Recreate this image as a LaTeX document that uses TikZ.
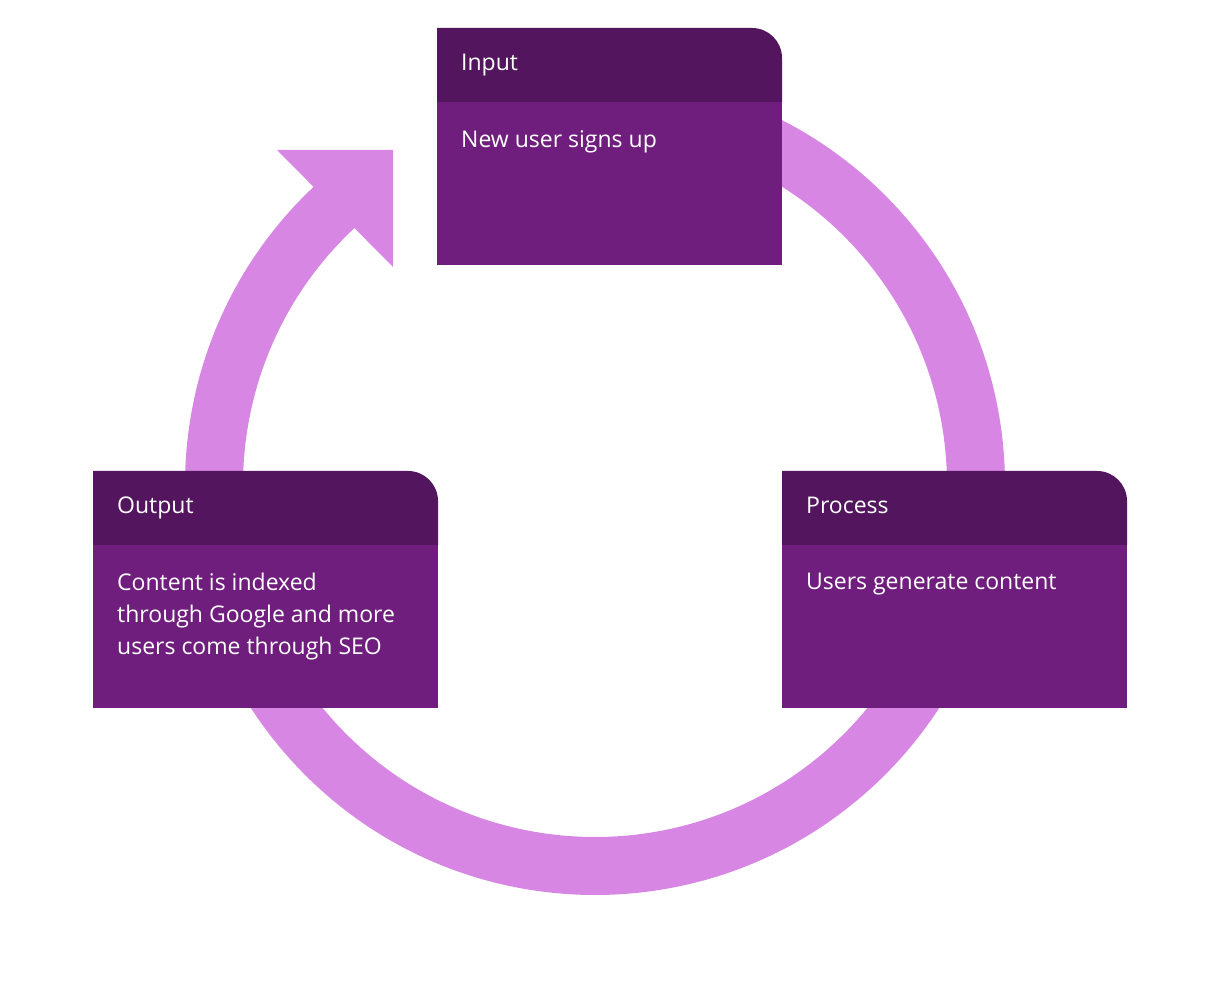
\documentclass[tikz,border=0pt]{standalone}
\usepackage{fontspec}
\setmainfont{Open Sans}
\definecolor{ring}{HTML}{D787E3}
\definecolor{hdr}{HTML}{53155E}
\definecolor{bdy}{HTML}{701E7D}
\tikzset{
 bodybox/.style={fill=bdy,minimum width=345pt,minimum height=163pt,inner sep=0,anchor=north west},
 txt/.style={text=white,font=\fontsize{23}{32}\selectfont,anchor=north west,inner sep=0,align=left},
}
\newcommand{\hdrbox}[3]{% x1, ytop (y-up), name
 \fill[hdr] (#1,#2-74) -- (#1,#2) -- (#1+315,#2) arc[start angle=90,end angle=0,radius=30] -- (#1+345,#2-74) -- cycle;
}
\begin{document}
\begin{tikzpicture}[x=1pt,y=1pt]
\useasboundingbox (0,0) rectangle (1212,1000);
% ring
\draw[ring,line width=58pt] (595,515) ++(133:381) arc[start angle=133,end angle=450,radius=381];
\fill[ring] (277,850) -- (393,850) -- (393,733) -- cycle;
% Input
\hdrbox{437}{972}{}
\node[bodybox] (inb) at (437,898) {};
\node[txt] (inh) at (461,946) {Input};
\node[txt] (int) at (461,870) {New user signs up};
% Output
\hdrbox{93}{529}{}
\node[bodybox] (outb) at (93,455) {};
\node[txt] (outh) at (117,503) {Output};
\node[txt] (outt) at (117,427) {Content is indexed\\through Google and more\\users come through SEO};
% Process
\hdrbox{782}{529}{}
\node[bodybox] (prb) at (782,455) {};
\node[txt] (prh) at (806,503) {Process};
\node[txt] (prt) at (806,427) {Users generate content};
\end{tikzpicture}
\end{document}
